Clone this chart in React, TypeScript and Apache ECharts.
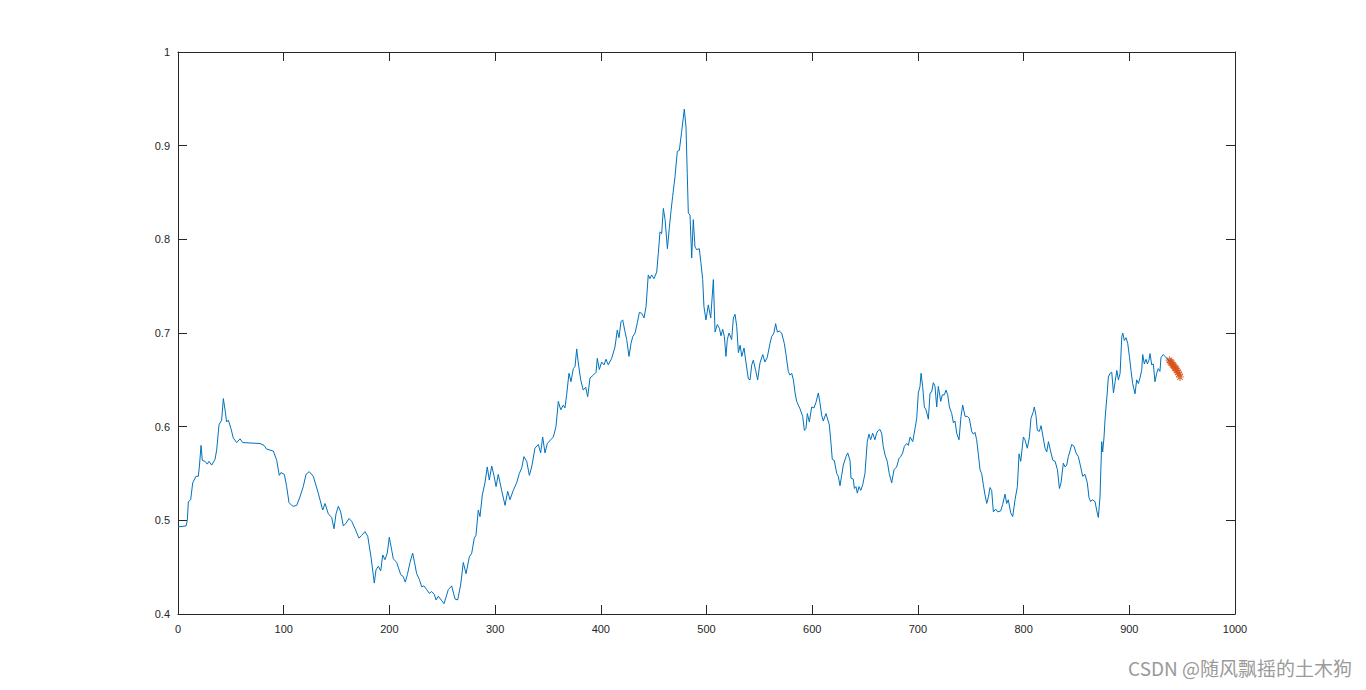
import React, { useEffect, useRef } from "react";
import * as echarts from "echarts";

// Blue series: points (x index, value)
const lineX = [
  0, 7.6, 8.8, 9.8, 12, 13.9, 17, 19.2, 20.2, 21.8, 23, 25.5, 27.7, 29.3, 31.9, 35, 36.6, 38.8, 41.3, 42.9,
  44.5, 46, 47.6, 50.1, 52.3, 55.5, 58.7, 61.2, 77.6, 81.4, 83.9, 90.2, 93.4, 95.8, 97.4, 100.6, 102.8, 105,
  107.6, 109.1, 112.3,
  115.4, 118.5, 121.1, 124.2, 128, 132.7, 136.9, 139.1, 142.2, 145.4, 147.6, 149.5, 151.7, 153.9, 156.4, 159,
  161.8, 164.3, 167.5, 171.2, 173.8, 176.9, 179.5, 182.6, 185.7, 187.3, 189.5, 191.8, 193.7, 195.8, 198, 199.9,
  202.2, 203.7, 206.9, 210.7, 213.1, 215, 217, 219.5, 222, 223.6, 225.8, 228.3, 230.6, 232.7, 235.3, 237.8,
  240, 242.5, 244.1, 246.3,
  251.7, 255.7, 258.9, 262.1, 264.6, 267.4, 269.9, 272.5, 275.6, 277.9, 280.3, 281.9, 284.1, 285.7, 287.9,
  290.4, 292.6, 294.5, 296.8, 298.9, 300.9, 303, 306.2, 309.4, 311.9, 314.1, 317.2, 320.4, 322.9, 325.2, 327.3,
  329.9, 332.4, 334.6, 337.7, 340.9, 343.1, 345, 347.2, 349.4, 352.6, 355.1, 357.6, 359.8, 362.1, 364.5, 366.1,
  367.7, 369.9, 371.8, 374, 375.6, 377.2, 378.7, 381, 383.4, 385.7, 387.6,
  389.8, 392.9, 395.5, 396.7, 398.6, 400.8, 403, 404.9, 407.1, 410.3, 413.4, 415.6, 417.2, 419.1, 420.7, 422.6,
  424.5, 426.7, 428.6, 430.2, 432.4, 434.6, 436.5, 438.7, 440.9, 442.8, 444.9, 446.5, 448.1, 450.3, 452.9,
  454.4, 456, 457.6, 459.2, 460.8, 463, 464.9, 466.5, 468, 470.2, 472.4, 474.3, 476.5, 479, 480.6, 481.8, 482.8,
  484.4, 486, 487.5, 489.1, 490.7, 493.2, 494.8, 496.4,
  497.6, 499.5, 501.7, 504, 506.5, 508.1, 510.2, 512.2, 513.7, 515.3, 516.9, 518.4, 519.7, 521.3, 523.8, 525.4,
  527, 528.6, 530.2, 531.8, 533.4, 535.5, 537.4, 539.6, 541.2, 542.8, 544.3, 546.5, 548.4, 550.6, 553.2, 555.3,
  557.5, 560.1, 561.6, 563.8, 565.4, 567, 568.9, 571.1, 573.6, 575.2, 577.4, 579, 580.6, 582.2, 583.8, 585.3,
  586.9,
  588.5, 591, 592.6, 594.1, 595.4, 597.3, 599.5, 601.7, 603.6, 605.8, 607.4, 609, 610.5, 613, 616.2, 617.8, 619,
  620.9, 623.2, 624.7, 626.3, 627.9, 629.4, 632, 633.6, 635.8, 636.7, 638.9, 639.9, 641.4, 642.7, 644.3, 645.9,
  647.8, 649.9, 652.1, 653.7, 655.3, 657.2, 659.3, 660.9, 662.5, 664.1, 665.7, 667.2, 668.9, 671, 672.9, 675.2,
  677.4, 679.9, 682.1, 683.7, 685.6, 687.2, 689.4, 691, 692.6, 695.1, 697.3, 698.9, 700.4, 702, 703, 704.5,
  706.1, 707.7, 709.9,
  711.5, 713, 714.6, 716.2, 717.8, 719.3, 721.6, 723.1, 725, 726.6, 728.2, 729.8, 732, 733.6, 735.1, 736.7,
  738.9, 740.8, 742.4, 744.6, 746.7, 748.6, 750.9, 752.4, 754, 755.6, 757.2, 758.8, 760.3, 761.9, 763.5, 765.1,
  766.7, 768.2, 769.8, 771.4, 773.6, 775.5, 778.3, 780.2, 782.4, 784, 785.5, 787.8, 789.7, 791.9, 794.1, 795.7,
  797.3, 799.8, 801.3, 803.5, 805.4, 807, 809.2, 810.1, 811.7, 813, 814.9, 816.5, 818.1, 820.3, 821.9, 823.5,
  825.7, 827.7, 829.8, 832, 833.9, 835.4, 837.6, 839.2, 840.8, 842.3,
  843.9, 845.5, 847.7, 849.6, 851.8, 854, 855.9, 858.1, 860.3, 861.9, 863.5, 865, 867.6, 869.1, 870.7, 872.3,
  873.9, 874.8, 876.1, 877, 878, 879.2, 880.2, 881.8, 883.4, 885, 886.6, 888.2, 889.7, 891.3, 892.9, 893.8,
  895.3, 896.9, 898.5, 900.1, 901.6, 903.2, 905.4, 907, 908.6, 910.1, 911.7, 912.7, 914.2, 915.8, 917.1, 918.6,
  919.6, 921.2, 922.7, 924.3, 925.9, 927.4, 929, 930, 932.2, 933.8, 936, 938,
];

const lineY = [
  0.493, 0.494, 0.5, 0.52, 0.522, 0.54, 0.547, 0.547, 0.557, 0.58, 0.564, 0.563, 0.56, 0.563, 0.559, 0.565, 0.575,
  0.602, 0.607, 0.63, 0.618, 0.605, 0.607, 0.598, 0.588, 0.583, 0.587, 0.583, 0.582, 0.58, 0.576, 0.574, 0.564,
  0.548, 0.551, 0.549, 0.536, 0.519, 0.516, 0.515, 0.516,
  0.525, 0.536, 0.549, 0.552, 0.547, 0.529, 0.511, 0.518, 0.507, 0.503, 0.491, 0.507, 0.515, 0.509, 0.494, 0.497,
  0.502, 0.499, 0.491, 0.481, 0.484, 0.488, 0.483, 0.461, 0.433, 0.447, 0.451, 0.446, 0.463, 0.458, 0.465, 0.482,
  0.468, 0.459, 0.455, 0.442, 0.44, 0.434, 0.442, 0.455, 0.465, 0.456, 0.443, 0.437, 0.429, 0.43, 0.426, 0.422,
  0.424, 0.421, 0.415, 0.419,
  0.411, 0.426, 0.43, 0.416, 0.415, 0.431, 0.455, 0.443, 0.461, 0.465, 0.481, 0.484, 0.511, 0.504, 0.527,
  0.54, 0.557, 0.543, 0.558, 0.548, 0.536, 0.549, 0.532, 0.516, 0.531, 0.522, 0.532, 0.54, 0.55, 0.556, 0.568,
  0.563, 0.548, 0.557, 0.577, 0.581, 0.572, 0.589, 0.572, 0.582, 0.586, 0.589, 0.6, 0.627, 0.618, 0.623, 0.62,
  0.634, 0.657, 0.648, 0.662, 0.664, 0.683, 0.668, 0.65, 0.639, 0.642, 0.632,
  0.652, 0.655, 0.658, 0.673, 0.661, 0.669, 0.666, 0.672, 0.666, 0.673, 0.685, 0.703, 0.695, 0.712, 0.714, 0.703,
  0.693, 0.675, 0.689, 0.696, 0.7, 0.711, 0.722, 0.721, 0.716, 0.728, 0.762, 0.758, 0.762, 0.758, 0.765,
  0.785, 0.808, 0.806, 0.833, 0.821, 0.79, 0.813, 0.831, 0.846, 0.867, 0.894, 0.895, 0.915, 0.939, 0.92, 0.87, 0.828,
  0.826, 0.78, 0.821, 0.792, 0.789, 0.79, 0.774, 0.757,
  0.728, 0.714, 0.73, 0.716, 0.757, 0.701, 0.709, 0.705, 0.697, 0.704, 0.696, 0.675, 0.693, 0.7, 0.693, 0.716,
  0.72, 0.707, 0.679, 0.687, 0.675, 0.684, 0.668, 0.651, 0.65, 0.666, 0.671, 0.66, 0.65, 0.668, 0.677, 0.669,
  0.674, 0.689, 0.696, 0.7, 0.71, 0.701, 0.702, 0.7, 0.689, 0.677, 0.659, 0.655, 0.657, 0.65, 0.636, 0.627,
  0.623,
  0.619, 0.611, 0.596, 0.598, 0.614, 0.605, 0.621, 0.62, 0.626, 0.636, 0.625, 0.612, 0.606, 0.614, 0.602, 0.582, 0.565,
  0.564, 0.55, 0.547, 0.537, 0.548, 0.559, 0.568, 0.572, 0.564, 0.545, 0.544, 0.534, 0.536, 0.529, 0.536, 0.532,
  0.538, 0.55, 0.584, 0.592, 0.586, 0.593, 0.586, 0.593, 0.596, 0.597, 0.593, 0.579, 0.57, 0.563, 0.55, 0.54,
  0.554, 0.557, 0.566, 0.568, 0.572, 0.579, 0.582, 0.58, 0.589, 0.584, 0.598, 0.609, 0.636, 0.643, 0.657, 0.643,
  0.621, 0.618, 0.608,
  0.636, 0.637, 0.647, 0.643, 0.621, 0.643, 0.627, 0.634, 0.634, 0.639, 0.634, 0.621, 0.614, 0.604, 0.606, 0.593,
  0.586, 0.611, 0.623, 0.611, 0.611, 0.609, 0.595, 0.592, 0.594, 0.586, 0.57, 0.554, 0.55, 0.538, 0.527, 0.518,
  0.525, 0.535, 0.532, 0.509, 0.512, 0.509, 0.51, 0.517, 0.528, 0.518, 0.522, 0.508, 0.504, 0.522, 0.536, 0.571,
  0.563, 0.589, 0.586, 0.577, 0.588, 0.609, 0.616, 0.621, 0.612, 0.596, 0.595, 0.601, 0.591, 0.577, 0.573, 0.584,
  0.573, 0.564, 0.563, 0.554, 0.534, 0.54, 0.561, 0.557, 0.559, 0.568,
  0.574, 0.581, 0.579, 0.572, 0.568, 0.557, 0.547, 0.549, 0.54, 0.524, 0.52, 0.522, 0.52, 0.511, 0.503, 0.525,
  0.584, 0.573, 0.589, 0.607, 0.621, 0.637, 0.653, 0.657, 0.658, 0.636, 0.648, 0.66, 0.65, 0.657, 0.696, 0.7,
  0.692, 0.695, 0.689, 0.675, 0.66, 0.646, 0.635, 0.65, 0.646, 0.652, 0.66, 0.677, 0.667, 0.672, 0.667, 0.671,
  0.678, 0.666, 0.667, 0.648, 0.657, 0.662, 0.659, 0.674, 0.677, 0.675, 0.672, 0.670,
];

// Red star markers (forecast)
const starX = [938, 939, 940, 941, 942, 943, 944, 945, 946, 947, 948];
const starY = [0.671, 0.669, 0.668, 0.666, 0.665, 0.663, 0.662, 0.66, 0.658, 0.656, 0.653];

// Axis ticks
const xTicks = { min: 0, max: 1000, step: 100 };
const yTicks = { min: 0.4, max: 1, step: 0.1 };

const ASTERISK =
  "path://M0,5L10,5M5,0L5,10M1.5,1.5L8.5,8.5M8.5,1.5L1.5,8.5";

export default function App() {
  const ref = useRef<HTMLDivElement>(null);

  useEffect(() => {
    if (!ref.current) return;
    const chart = echarts.init(ref.current, null, { renderer: "svg" });
    const axisColor = "#262626";
    const font = "'Liberation Sans', Arial, Helvetica, sans-serif";
    const lineData = lineX.map((x, i) => [x, lineY[i]]);
    const starData = starX.map((x, i) => [x, starY[i]]);
    const baseX = {
      type: "value" as const,
      min: xTicks.min,
      max: xTicks.max,
      interval: xTicks.step,
      splitLine: { show: false },
      axisLine: { show: true, onZero: false, lineStyle: { color: axisColor, width: 1 } },
      axisTick: { show: true, inside: true, length: 9, lineStyle: { color: axisColor } },
    };
    const baseY = {
      type: "value" as const,
      min: yTicks.min,
      max: yTicks.max,
      interval: yTicks.step,
      splitLine: { show: false },
      axisLine: { show: true, onZero: false, lineStyle: { color: axisColor, width: 1 } },
      axisTick: { show: true, inside: true, length: 9, lineStyle: { color: axisColor } },
    };
    chart.setOption({
      animation: false,
      backgroundColor: "#ffffff",
      grid: { left: 178, right: 131, top: 52, bottom: 76, containLabel: false },
      xAxis: [
        {
          ...baseX,
          position: "bottom",
          axisLabel: {
            color: axisColor,
            fontSize: 11,
            fontFamily: font,
            margin: 9,
            formatter: (v: number) => String(Math.round(v)),
          },
        },
        { ...baseX, position: "top", axisLabel: { show: false } },
      ],
      yAxis: [
        {
          ...baseY,
          position: "left",
          axisLabel: {
            color: axisColor,
            fontSize: 11,
            fontFamily: font,
            margin: 8,
            formatter: (v: number) => String(Math.round(v * 10) / 10),
          },
        },
        { ...baseY, position: "right", axisLabel: { show: false } },
      ],
      series: [
        {
          type: "line",
          data: lineData,
          xAxisIndex: 0,
          yAxisIndex: 0,
          showSymbol: false,
          symbol: "none",
          lineStyle: { color: "#0072BD", width: 1 },
          silent: true,
        },
        {
          type: "scatter",
          data: starData,
          xAxisIndex: 0,
          yAxisIndex: 0,
          symbol: ASTERISK,
          symbolSize: 8,
          itemStyle: { color: "rgba(0,0,0,0)", borderColor: "#D95319", borderWidth: 1.2 },
          silent: true,
        },
      ],
      graphic: [
        {
          type: "text",
          right: 14,
          top: 658,
          style: {
            text: "CSDN @随风飘摇的土木狗",
            fill: "#9a9a9a",
            fontSize: 19,
            fontFamily: "'Noto Sans CJK SC', 'Liberation Sans', sans-serif",
          },
        },
      ],
    });
    return () => chart.dispose();
  }, []);

  return (
    <div
      ref={ref}
      style={{ position: "fixed", left: 0, top: 0, width: 1366, height: 690, background: "#fff" }}
    />
  );
}
